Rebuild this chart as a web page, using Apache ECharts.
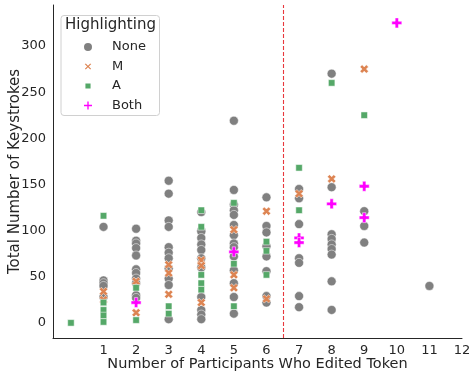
<!DOCTYPE html>
<html>
<head>
<meta charset="utf-8">
<script src="https://cdn.jsdelivr.net/npm/echarts@6/dist/echarts.min.js"></script>
<style>
html,body{margin:0;padding:0;background:#fff;}
#chart{width:474px;height:378px;}
</style>
</head>
<body>
<div id="chart"></div>
<script>
// ---- data ([participants, keystrokes]) ----
const categories = ['None', 'M', 'A', 'Both'];
const noneData = [
  [1,104],[1,46],[1,43],[1,40],[1,28],
  [2,102],[2,89],[2,86],[2,81],[2,73],[2,58],[2,54],[2,48],[2,43],[2,30],[2,27],
  [3,154],[3,140],[3,111],[3,104],[3,82],[3,76],[3,70],[3,59],[3,48],[3,41],[3,4],
  [4,120],[4,100],[4,99],[4,92],[4,85],[4,79],[4,70],[4,60],[4,28],[4,14],[4,9],[4,4],
  [5,219],[5,144],[5,128],[5,122],[5,117],[5,106],[5,95],[5,86],[5,82],[5,72],[5,57],[5,43],[5,28],[5,10],
  [6,136],[6,105],[6,98],[6,83],[6,72],[6,56],[6,29],[6,22],
  [7,145],[7,135],[7,107],[7,70],[7,65],[7,29],[7,17],
  [8,270],[8,147],[8,96],[8,91],[8,85],[8,80],[8,74],[8,45],[8,14],
  [9,121],[9,105],[9,87],
  [11,40]
];
const mData = [
  [1,34],[1,25],[2,45],[2,11],[3,63],[3,54],[3,31],[4,68],[4,62],[4,22],
  [5,101],[5,52],[5,38],[6,121],[6,26],[7,140],[8,156],[9,275]
];
const aData = [
  [0,0],[1,116],[1,22],[1,14],[1,8],[1,1],[2,38],[2,3],[3,18],[3,10],
  [4,122],[4,104],[4,52],[4,43],[4,36],[5,130],[5,64],[5,18],
  [6,88],[6,78],[6,52],[7,168],[7,122],[8,260],[9,225]
];
const bothData = [
  [2,22],[5,77],[7,92],[7,87],[8,129],[9,148],[9,114],[10,325]
];
const xTicks = [1,2,3,4,5,6,7,8,9,10,11,12];
const yTicks = [0,50,100,150,200,250,300];
const thresholdX = 6.5;

const FONT = 'DejaVu Sans';
const TXT = '#262626';
const plusPath = 'path://M2,0H4V2H6V4H4V6H2V4H0V2H2Z';
const xPath = 'path://M0,1.5L1.5,0L3,1.5L4.5,0L6,1.5L4.5,3L6,4.5L4.5,6L3,4.5L1.5,6L0,4.5L1.5,3Z';
const sqPath = 'path://M0,0H6V6H0Z';
// legend icons padded so they render smaller inside the 10px legend box
const xLegend = 'path://M-0.3,-0.3M6.3,6.3M0,1.5L1.5,0L3,1.5L4.5,0L6,1.5L4.5,3L6,4.5L4.5,6L3,4.5L1.5,6L0,4.5L1.5,3Z';
const sqLegend = 'path://M-1.2,-1.2M7.2,7.2M0,0H6V6H0Z';

function mk(name, data, color, symbol, size, extra) {
  return Object.assign({
    name: name, type: 'scatter', data: data,
    symbol: symbol, symbolSize: size,
    itemStyle: { color: color, borderColor: '#ffffff', borderWidth: 0.5, opacity: 1 },
    emphasis: { disabled: true }
  }, extra || {});
}

const chart = echarts.init(document.getElementById('chart'), null, { renderer: 'canvas' });
chart.setOption({
  animation: false,
  backgroundColor: '#ffffff',
  textStyle: { fontFamily: FONT },
  graphic: [
    {
      type: 'rect', left: 60.5, top: 15, z: 4,
      shape: { width: 98.5, height: 100, r: 3 },
      style: { fill: 'rgba(255,255,255,0.85)', stroke: '#d0d0d0', lineWidth: 1 }
    },
    {
      type: 'text', left: 65, top: 18, z: 5,
      style: { text: 'Highlighting', fontFamily: FONT, fontSize: 15, fill: TXT }
    }
  ],
  legend: {
    orient: 'vertical', left: 82, top: 40, z: 6,
    data: [
      { name: 'None', icon: 'circle' },
      { name: 'M', icon: xLegend },
      { name: 'A', icon: sqLegend },
      { name: 'Both', icon: plusPath }
    ],
    padding: 0,
    itemWidth: 10, itemHeight: 10, itemGap: 5.5,
    textStyle: { fontFamily: FONT, fontSize: 13, color: TXT, lineHeight: 14, padding: [0, 0, 0, 14] }
  },
  grid: { left: 53, right: 12, top: 5, bottom: 40, containLabel: false, outerBoundsMode: 'none' },
  xAxis: {
    type: 'value', min: -0.55, max: 12,
    name: 'Number of Participants Who Edited Token',
    nameLocation: 'middle', nameGap: 19, nameMoveOverlap: false,
    nameTextStyle: { fontFamily: FONT, fontSize: 14.5, color: TXT, verticalAlign: 'top' },
    axisLine: { show: true, onZero: false, lineStyle: { color: TXT, width: 1 } },
    axisTick: { show: false },
    splitLine: { show: false },
    axisLabel: { customValues: xTicks, fontFamily: FONT, fontSize: 13, color: TXT, margin: 6 }
  },
  yAxis: {
    type: 'value', min: -16.4, max: 344.4,
    name: 'Total Number of Keystrokes',
    nameLocation: 'middle', nameGap: 30, nameMoveOverlap: false,
    nameTextStyle: { fontFamily: FONT, fontSize: 15, color: TXT },
    axisLine: { show: true, onZero: false, lineStyle: { color: TXT, width: 1 } },
    axisTick: { show: false },
    splitLine: { show: false },
    axisLabel: { customValues: yTicks, fontFamily: FONT, fontSize: 13, color: TXT, margin: 7 }
  },
  series: [
    mk('None', noneData, '#808080', 'circle', 9, {
      markLine: {
        silent: true, symbol: 'none', label: { show: false },
        lineStyle: { color: '#e8383d', type: [4, 2], width: 1.1, opacity: 1 },
        emphasis: { disabled: true },
        data: [{ xAxis: thresholdX }]
      }
    }),
    mk('M', mData, '#dd8452', xPath, 8.5),
    mk('A', aData, '#55a868', sqPath, 6.5),
    mk('Both', bothData, '#ff00ff', plusPath, 10)
  ]
});
</script>
</body>
</html>
